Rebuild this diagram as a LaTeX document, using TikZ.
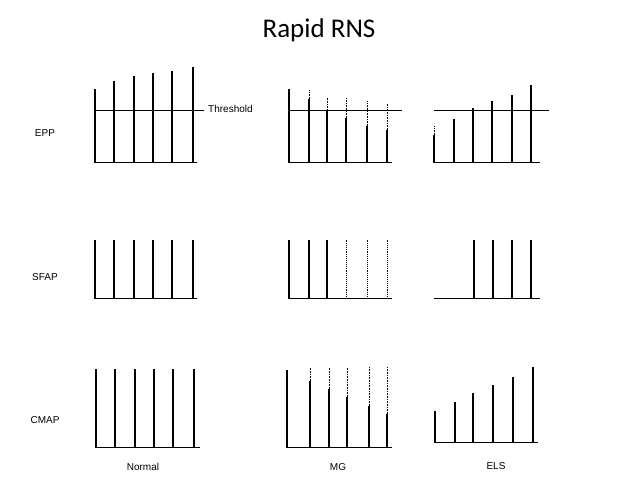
\documentclass[tikz,border=0pt]{standalone}
\usepackage{fontspec}
\setmainfont{Liberation Sans}
\newfontfamily\titlefont{Carlito}
\begin{document}
\begin{tikzpicture}[x=1pt,y=-1pt,
  bar/.style={line width=1.4pt},
  base/.style={line width=1pt},
  dots/.style={densely dotted,line width=0.6pt},
  lbl/.style={font=\fontsize{10}{12}\selectfont,inner sep=0pt}]
\useasboundingbox (0,0) rectangle (638,478);
\node[font=\titlefont\fontsize{27}{30}\selectfont] (title) at (319,30) {Rapid RNS};
% row labels
\node[lbl] (epp) at (45,133) {EPP};
\node[lbl] (sfap) at (45,277) {SFAP};
\node[lbl] (cmap) at (45,420) {CMAP};
\node[lbl] (normal) at (143,467) {Normal};
\node[lbl] (mg) at (338,467) {MG};
\node[lbl] (els) at (496,466) {ELS};
% EPP normal
\draw[base] (95,163) -- (197,163);
\foreach \x/\t in {95/89,114/81,134/76,153/73,172/71,193/67} \draw[bar] (\x,163) -- (\x,\t);
\draw[base] (95,111) -- (204,111);
\node[lbl,anchor=west] (thr) at (208,109) {Threshold};
% EPP MG
\draw[base] (289,163) -- (392,163);
\foreach \x/\t/\d in {309/99/90,327/111/98,346/118/98,367/126/101,387/130/103} {\draw[dots] (\x,\t) -- (\x,\d); \draw[bar] (\x,163) -- (\x,\t);}
\draw[bar] (289,163) -- (289,89);
\draw[base] (289,111) -- (402,111);
% EPP ELS
\draw[base] (434,163) -- (540,163);
\draw[bar] (434,163) -- (434,135); \draw[dots] (434,135) -- (434,126);
\foreach \x/\t in {454/119,473/108,492/101,512/95,531/85} \draw[bar] (\x,163) -- (\x,\t);
\draw[base] (434,111) -- (549,111);
% SFAP
\draw[base] (95,299) -- (197,299);
\foreach \x in {95,114,134,153,172,193} \draw[bar] (\x,299) -- (\x,240);
\draw[base] (289,299) -- (392,299);
\foreach \x in {289,309,327} \draw[bar] (\x,299) -- (\x,240);
\foreach \x in {346,367,387} \draw[dots,line width=0.9pt] (\x,299) -- (\x,240);
\draw[base] (434,299) -- (540,299);
\foreach \x in {474,493,512,531} \draw[bar] (\x,299) -- (\x,240);
% CMAP
\draw[base] (96,448) -- (200,448);
\foreach \x in {96,115,135,154,173,194} \draw[bar] (\x,448) -- (\x,369);
\draw[base] (287,448) -- (392,448);
\draw[bar] (287,448) -- (287,370);
\foreach \x/\t in {310/381,329/389,347/397,369/406,387/414} {\draw[dots] (\x,\t) -- (\x,367); \draw[bar] (\x,448) -- (\x,\t);}
\draw[base] (434,443) -- (538,443);
\foreach \x/\t in {435/411,455/402,473/393,493/385,513/377,533/367} \draw[bar] (\x,443) -- (\x,\t);
\end{tikzpicture}
\end{document}
